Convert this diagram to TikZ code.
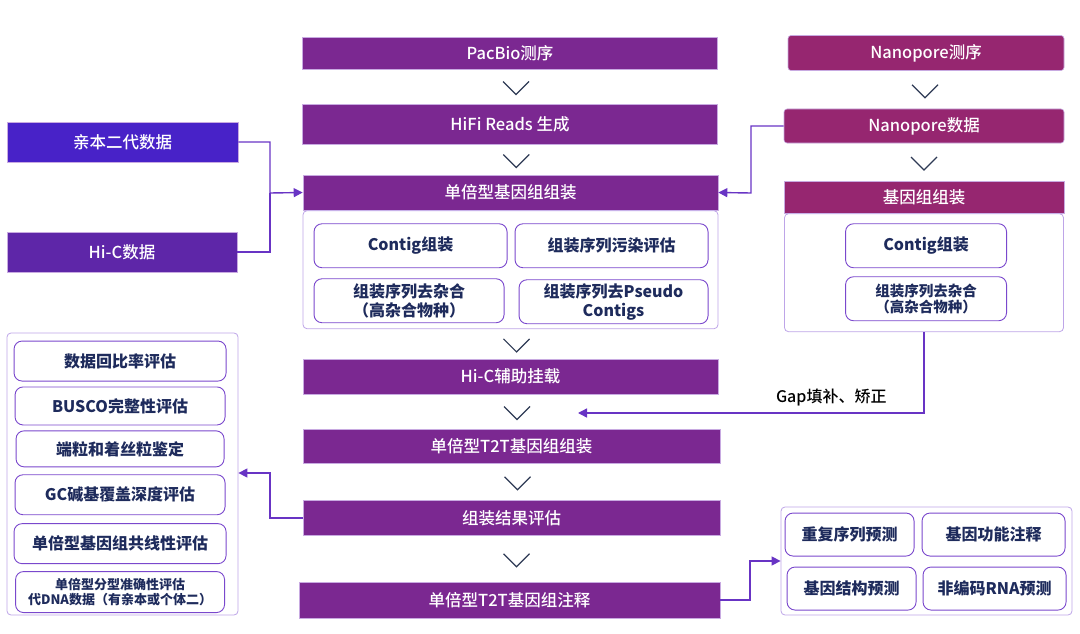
\documentclass[tikz,border=0pt]{standalone}
\usepackage{fontspec}
\setmainfont{Noto Sans CJK SC}
\newfontfamily\medfont{Noto Sans CJK SC Medium}
\usepackage{tikz}
\usetikzlibrary{positioning,calc,arrows.meta}

\definecolor{headpurple}{RGB}{123,40,145}
\definecolor{nanored}{RGB}{150,38,112}
\definecolor{parentblue}{RGB}{72,34,200}
\definecolor{hicviolet}{RGB}{94,38,168}
\definecolor{headline}{RGB}{200,170,225}
\definecolor{panelline}{RGB}{190,165,232}
\definecolor{taskline}{RGB}{122,72,205}
\definecolor{navy}{RGB}{30,43,92}
\definecolor{linkviolet}{RGB}{104,52,196}
\definecolor{chevgray}{RGB}{46,58,85}

\tikzstyle{head} = [rectangle, fill=headpurple, draw=headline, line width=0.6pt,
    text=white, inner sep=0pt, minimum width=415pt, minimum height=35pt,
    font=\medfont\fontsize{16.5}{19}\selectfont]
\tikzstyle{head_nano} = [head, fill=nanored, minimum width=280pt]
\tikzstyle{panel} = [rectangle, draw=panelline, fill=white, line width=0.8pt,
    rounded corners=4pt, inner sep=0pt]
\tikzstyle{task} = [rectangle, draw=taskline, line width=0.9pt, rounded corners=8pt,
    align=center, text=navy, inner sep=0pt,
    font=\bfseries\fontsize{16}{18.5}\selectfont]
\tikzstyle{link} = [draw=linkviolet, line width=1.4pt, -{Triangle[length=9pt,width=9pt]}]
\tikzstyle{link_plain} = [draw=linkviolet, line width=1.4pt]
\tikzstyle{chevron} = [draw=chevgray, line width=1.2pt]

\begin{document}
\begin{tikzpicture}[x=1pt, y=1pt]
    \useasboundingbox (0,0) rectangle (1080,-634);

    % middle column
    \node [head, minimum height=32pt] (pacbio) at (510,-53) {PacBio测序};
    \node [head, minimum height=40pt] (hifi) at (510,-124) {HiFi Reads 生成};
    \node [head] (asm_head) at (510.5,-192.5) {单倍型基因组组装};
    \node [panel, below=0pt of asm_head, minimum width=415pt, minimum height=118pt] (asm_panel) {};
    \node [task, below right=13pt and 11pt of asm_panel.north west,
        minimum width=193pt, minimum height=44pt] (contig_a) {Contig组装};
    \node [task, below right=13pt and 212pt of asm_panel.north west,
        minimum width=193pt, minimum height=44pt] (pollute) {组装序列污染评估};
    \node [task, below right=68pt and 11pt of asm_panel.north west,
        minimum width=190pt, minimum height=44pt] (dehet_a) {组装序列去杂合\\（高杂合物种）};
    \node [task, below right=69pt and 216pt of asm_panel.north west,
        minimum width=189pt, minimum height=44pt] (pseudo) {组装序列去Pseudo\\Contigs};

    \node [head] (hic_scaf) at (510.5,-376.5) {Hi-C辅助挂载};
    \node [head, minimum width=417pt, minimum height=34pt] (t2t_asm) at (511.5,-446) {单倍型T2T基因组组装};
    \node [head, minimum width=417pt] (eval) at (511.5,-518) {组装结果评估};
    \node [head, minimum width=421pt, minimum height=36pt] (annot) at (509.5,-600) {单倍型T2T基因组注释};

    % nanopore column
    \node [head_nano, rounded corners=3pt, minimum width=276pt] (nano_seq) at (926,-53) {Nanopore测序};
    \node [head_nano, rounded corners=3pt, minimum height=34pt] (nano_data) at (924,-126) {Nanopore数据};
    \node [head_nano, minimum height=32pt] (nano_asm) at (924,-197) {基因组组装};
    \node [panel, below=0pt of nano_asm, minimum width=279pt, minimum height=118pt] (nano_panel) {};
    \node [task, below right=10pt and 61pt of nano_panel.north west,
        minimum width=161pt, minimum height=44pt] (contig_b) {Contig组装};
    \node [task, below right=63pt and 61pt of nano_panel.north west,
        minimum width=161pt, minimum height=44pt,
        font=\bfseries\fontsize{14.5}{16.5}\selectfont] (dehet_b) {组装序列去杂合\\（高杂合物种）};

    % extra data
    \node [head, fill=parentblue, minimum width=231pt, minimum height=40pt] (parents) at (122.5,-142) {亲本二代数据};
    \node [head, fill=hicviolet, minimum width=230pt, minimum height=40pt] (hic_data) at (122,-252) {Hi-C数据};

    % quality checks
    \node [panel, minimum width=231pt, minimum height=282pt] (qc_panel) at (122.5,-474) {};
    \node [task, below right=8pt and 7pt of qc_panel.north west,
        minimum width=212pt, minimum height=40pt] (map_rate) {数据回比率评估};
    \node [task, below=5pt of map_rate, minimum width=210pt, minimum height=38pt] (busco) {BUSCO完整性评估};
    \node [task, below=5pt of busco, minimum width=208pt, minimum height=36pt] (telo) {端粒和着丝粒鉴定};
    \node [task, below=7pt of telo, minimum width=210pt, minimum height=40pt] (gc_depth) {GC碱基覆盖深度评估};
    \node [task, below=8pt of gc_depth, minimum width=212pt, minimum height=40pt] (synteny) {单倍型基因组共线性评估};
    \node [task, below=7pt of synteny, minimum width=209pt, minimum height=41pt,
        font=\bfseries\fontsize{13}{15.5}\selectfont] (phasing) {单倍型分型准确性评估\\代DNA数据（有亲本或个体二）};

    % annotation
    \node [panel, minimum width=291pt, minimum height=108pt] (anno_panel) at (926.5,-561) {};
    \node [task, below right=6pt and 4pt of anno_panel.north west,
        minimum width=129pt, minimum height=43pt] (repeat) {重复序列预测};
    \node [task, below right=6pt and 141pt of anno_panel.north west,
        minimum width=143pt, minimum height=43pt] (func) {基因功能注释};
    \node [task, below right=60pt and 6pt of anno_panel.north west,
        minimum width=129pt, minimum height=43pt] (struct) {基因结构预测};
    \node [task, below right=60pt and 142pt of anno_panel.north west,
        minimum width=143pt, minimum height=43pt] (ncrna) {非编码RNA预测};

    % chevrons
    \foreach \a/\b in {pacbio/hifi, hifi/asm_head, asm_panel/hic_scaf, hic_scaf/t2t_asm, t2t_asm/eval, eval/annot}
        \draw [chevron] ($(\a.south)!0.5!(\b.north)+(6,-1.5)$) ++(-13,6.5) -- ++(13,-13) -- ++(13,13);
    \foreach \a/\b in {nano_seq/nano_data, nano_data/nano_asm}
        \draw [chevron] ($(\a.south)!0.5!(\b.north)+(0,-1.5)$) ++(-13,6.5) -- ++(13,-13) -- ++(13,13);

    % connectors
    \coordinate (merge) at (270,-193);
    \coordinate (nano_turn) at (751,-193);
    \coordinate (gap_end) at (578,-413);
    \coordinate (qc_turn) at (270,-473);
    \coordinate (anno_turn) at (750,-561);

    \path [link] (parents.east) -| (merge) -- (asm_head.west);
    \path [link_plain] (hic_data.east) -| (merge);
    \path [link] (nano_data.west) -| (nano_turn) -- (asm_head.east);
    \path [link] (nano_panel.south) |- (gap_end)
        node [pos=0.634, above=3pt, text=black, font=\medfont\fontsize{16}{18}\selectfont] {Gap填补、矫正};
    \path [link] (eval.west) -| (qc_turn) -- (qc_panel.east |- qc_turn);
    \path [link] (annot.east) -| (anno_turn) -- (anno_panel.west |- anno_turn);
\end{tikzpicture}
\end{document}
